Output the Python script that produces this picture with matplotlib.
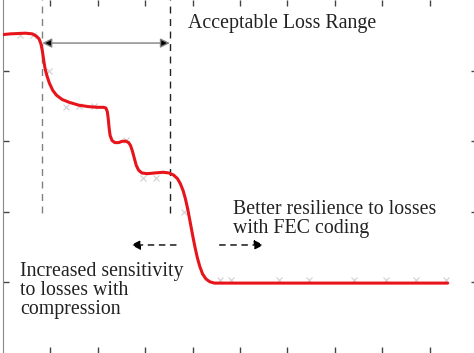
import matplotlib.pyplot as plt

# Red curve
curve_x = [0.00, 0.15, 0.47, 0.62, 0.70, 0.76, 0.80, 0.83, 0.86, 0.89, 0.93, 0.98,
           1.05, 1.13, 1.25, 1.40, 1.60, 1.80, 2.00, 2.12, 2.17, 2.20, 2.22, 2.24,
           2.26, 2.30, 2.36, 2.44, 2.52, 2.59, 2.65, 2.69, 2.73, 2.77, 2.81, 2.86,
           2.93, 3.04, 3.20, 3.38, 3.50, 3.60, 3.68, 3.74, 3.80, 3.85, 3.90, 3.95,
           4.00, 4.05, 4.10, 4.15, 4.21, 4.28, 4.36, 4.46, 4.60, 9.38]
curve_y = [4.51, 4.52, 4.53, 4.52, 4.49, 4.45, 4.38, 4.28, 4.14, 4.02, 3.92, 3.82,
           3.72, 3.65, 3.59, 3.55, 3.51, 3.49, 3.48, 3.48, 3.47, 3.42, 3.32, 3.18,
           3.08, 3.01, 2.98, 2.98, 3.00, 3.00, 2.98, 2.94, 2.86, 2.76, 2.66, 2.59,
           2.55, 2.54, 2.55, 2.56, 2.55, 2.52, 2.47, 2.40, 2.30, 2.18, 2.03, 1.85,
           1.67, 1.50, 1.35, 1.23, 1.12, 1.05, 1.01, 0.99, 0.99, 0.99]

# Grey measured points
pts_x = [0.36, 0.64, 0.98, 1.32, 1.61, 1.93, 2.59, 2.95, 3.23, 3.82,
         4.57, 4.82, 5.82, 6.45, 7.41, 8.07, 8.71, 9.34]
pts_y = [4.50, 4.50, 3.99, 3.48, 3.50, 3.50, 3.02, 2.48, 2.48, 2.00,
         1.03, 1.03, 1.03, 1.03, 1.03, 1.03, 1.03, 1.03]

x_lo, x_hi = 0.83, 3.52   # acceptable loss range

plt.rcParams['font.family'] = ['Liberation Serif', 'DejaVu Serif']

fig = plt.figure(figsize=(4.74, 3.53), dpi=100)
ax = fig.add_axes([3 / 474, 0, 1.0, 1.0])
ax.set_xlim(0, 10)
ax.set_ylim(0, 5)

ax.plot(pts_x, pts_y, 'x', color='#d0d0d0', markersize=5, markeredgewidth=0.8, zorder=2)
ax.plot(curve_x, curve_y, color='#e8141b', linewidth=2.2, zorder=3,
        solid_joinstyle='round', solid_capstyle='round')

# limits of the acceptable range
ax.plot([x_lo, x_lo], [1.98, 5], color='#808080', linestyle=(0, (5, 4)), linewidth=1.0)
ax.plot([x_hi, x_hi], [1.98, 5], color='#222222', linestyle=(0, (5, 4)), linewidth=1.0)
ax.annotate('', xy=(x_lo, 4.39), xytext=(x_hi, 4.39),
            arrowprops=dict(arrowstyle='<|-|>', color='#808080', lw=1.0,
                            shrinkA=0, shrinkB=0, mutation_scale=14,
                            fc='black', ec='#808080'))
ax.text(3.91, 4.67, 'Acceptable Loss Range', fontsize=14.3, color='#222222',
        va='center', ha='left')

# dashed arrows
ax.annotate('', xy=(2.70, 1.53), xytext=(3.65, 1.53),
            arrowprops=dict(arrowstyle='-|>', color='black', lw=1.0,
                            linestyle=(0, (4, 4)), shrinkA=0, shrinkB=0,
                            mutation_scale=14))
ax.annotate('', xy=(5.50, 1.53), xytext=(4.57, 1.53),
            arrowprops=dict(arrowstyle='-|>', color='black', lw=1.0,
                            linestyle=(0, (4, 4)), shrinkA=0, shrinkB=0,
                            mutation_scale=14))

ax.text(4.86, 1.90, 'Better resilience to losses\nwith FEC coding', fontsize=14.3,
        color='#222222', va='center', ha='left', linespacing=0.95)
ax.text(0.36, 0.89, 'Increased sensitivity\nto losses with\ncompression', fontsize=14.3,
        color='#222222', va='center', ha='left', linespacing=1.0)

ax.set_xticks(range(1, 10))
ax.set_yticks(range(1, 5))
ax.set_xticklabels([])
ax.set_yticklabels([])
ax.tick_params(direction='in', length=4.5, width=1.0, color='#444444',
               top=True, bottom=True, left=True, right=True)
ax.spines['left'].set_color('#888888')
for s in ['top', 'bottom', 'right']:
    ax.spines[s].set_visible(False)

fig.savefig('out.png', dpi=100)
